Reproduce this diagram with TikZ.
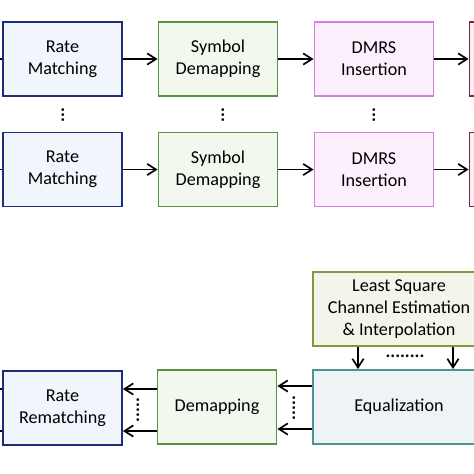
\documentclass[tikz,border=0pt]{standalone}
\usepackage{fontspec}
\setmainfont{Carlito}
\usetikzlibrary{calc,arrows.meta}
\definecolor{navyline}{HTML}{1F2C7C}
\definecolor{navyfill}{HTML}{F0F6FC}
\definecolor{grnline}{HTML}{5B9240}
\definecolor{grnfill}{HTML}{F2F8EE}
\definecolor{pinkline}{HTML}{D580E0}
\definecolor{pinkfill}{HTML}{FCF0FC}
\definecolor{magline}{HTML}{7B2350}
\definecolor{magfill}{HTML}{FBEFF5}
\definecolor{oliveline}{HTML}{7D9B3E}
\definecolor{olivefill}{HTML}{F3F5EA}
\definecolor{tealline}{HTML}{4E9494}
\definecolor{tealfill}{HTML}{EEF4F6}
\tikzset{
	blk/.style={draw, line width=1.3pt, minimum width=2.975cm, minimum height=1.85cm, inner sep=0pt, align=center, font=\fontsize{12.9}{15.8}\selectfont},
	wideblk/.style={blk, minimum width=4.3cm},
	arr/.style={line width=1.2pt, -{Straight Barb[length=2.2mm,width=2.8mm]}},
	wire/.style={line width=1.2pt},
	dots/.style={inner sep=0pt, font=\fontsize{12.9}{15.8}\bfseries}
}

\begin{document}
\begin{tikzpicture}[x=0.025cm, y=-0.025cm]
		%%%%% START %%%%%
		\clip (0,0) rectangle (474,474);
		
		% transmit chains
		\node[blk, draw=navyline, fill=navyfill] (rm1) at (62.5,59) {Rate\\Matching};
		\node[blk, draw=grnline, fill=grnfill] (sd1) at (218,59) {Symbol\\Demapping};
		\node[blk, draw=pinkline, fill=pinkfill] (dm1) at (374,59) {DMRS\\Insertion};
		\node[blk, draw=magline, fill=magfill] (nx1) at (529,59) {};
		
		\node[blk, draw=navyline, fill=navyfill] (rm2) at (62.5,169.5) {Rate\\Matching};
		\node[blk, draw=grnline, fill=grnfill] (sd2) at (218,169.5) {Symbol\\Demapping};
		\node[blk, draw=pinkline, fill=pinkfill] (dm2) at (374,169.5) {DMRS\\Insertion};
		\node[blk, draw=magline, fill=magfill] (nx2) at (529,169.5) {};
		
		\node[dots, rotate=90] (vd1) at (63,115) {...};
		\node[dots, rotate=90] (vd2) at (223,115) {...};
		\node[dots, rotate=90] (vd3) at (374,115) {...};
		
		\coordinate (in1) at (0,59);
		\coordinate (in2) at (0,169.5);
		\draw[wire] (in1) -- (rm1.west);
		\draw[wire] (in2) -- (rm2.west);
		\draw[arr] (rm1) -- (sd1);
		\draw[arr] (sd1) -- (dm1);
		\draw[arr] (dm1) -- (nx1);
		\draw[arr] (rm2) -- (sd2);
		\draw[arr] (sd2) -- (dm2);
		\draw[arr] (dm2) -- (nx2);
		
		% receive chain
		\node[wideblk, draw=oliveline, fill=olivefill] (ls) at (399,309) {Least Square\\Channel Estimation\\\& Interpolation};
		\node[wideblk, draw=tealline, fill=tealfill] (eq) at (399,407) {Equalization};
		\node[blk, draw=grnline, fill=grnfill] (dem) at (217,407) {Demapping};
		\node[blk, draw=navyline, fill=navyfill] (rr) at (62.5,408) {Rate\\Rematching};
		
		\draw[arr] ($(ls.south)+(-41,0)$) -- ($(eq.north)+(-41,0)$);
		\draw[arr] ($(ls.south)+(54,0)$) -- ($(eq.north)+(54,0)$);
		\node[dots] (hd) at (405,356) {........};
		
		\draw[arr] ($(eq.west)+(0,-21)$) -- ($(dem.east)+(0,-21)$);
		\draw[arr] ($(eq.west)+(0,22)$) -- ($(dem.east)+(0,22)$);
		\node[dots, rotate=90] (vd4) at (294,408) {.....};
		
		\draw[arr] ($(dem.west)+(0,-18)$) -- ($(rr.east)+(0,-19)$);
		\draw[arr] ($(dem.west)+(0,24)$) -- ($(rr.east)+(0,23)$);
		\node[dots, rotate=90] (vd5) at (138,410) {.....};
		
		\coordinate (out1) at (0,389);
		\coordinate (out2) at (0,431);
		\draw[wire] (rr.west |- out1) -- (out1);
		\draw[wire] (rr.west |- out2) -- (out2);
		
		%%%%% END %%%%%
\end{tikzpicture}
\end{document}
